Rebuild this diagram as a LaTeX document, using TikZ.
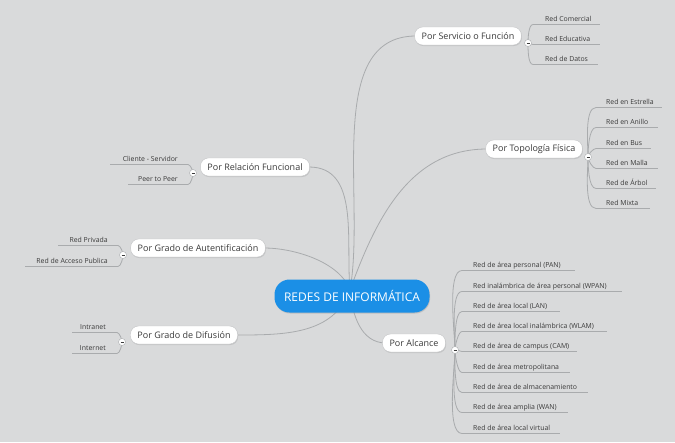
\documentclass[tikz,border=0pt]{standalone}
\usepackage{fontspec}
\setmainfont{Open Sans}
\usetikzlibrary{shadows}
\definecolor{bg}{HTML}{D9DADB}
\definecolor{ln}{HTML}{A9ABAD}
\definecolor{bl}{HTML}{1B8FE6}
\definecolor{tx}{HTML}{3A3A3A}
\tikzset{
 x=1pt,y=-1pt,
 branch/.style={draw=ln!70,fill=white,rounded corners=8pt,inner xsep=7pt,minimum height=18pt,font=\fontsize{9}{10}\selectfont,text=tx,drop shadow={opacity=0.25,shadow xshift=0.6pt,shadow yshift=-1pt}},
 leaf/.style={inner ysep=2.5pt,inner xsep=2pt,font=\fontsize{6.9}{8}\selectfont,text=tx},
 ul/.style={draw=ln,line width=0.7pt},
 con/.style={draw=ln,line width=0.8pt},
 tog/.style={circle,draw=ln,fill=white,inner sep=0pt,minimum size=7pt,path picture={\draw[tx,line width=0.6pt] ([xshift=-1.5pt]path picture bounding box.center)--([xshift=1.5pt]path picture bounding box.center);}},
}
\begin{document}
\begin{tikzpicture}
\useasboundingbox[fill=bg] (0,0) rectangle (675,442);
\coordinate (hub) at (350,290);
\coordinate (p1) at (468,36);
\coordinate (p2) at (534,149);
\coordinate (p3) at (255,167);
\coordinate (p4) at (198,248);
\coordinate (p5) at (184,335);
\coordinate (p6) at (414,343);
% root connectors
\draw[con] (hub) to[out=80,in=180,looseness=0.9] ([xshift=-52pt]p1);
\draw[con] (hub) to[out=70,in=180] ([xshift=-47pt]p2);
\draw[con] (hub) to[out=95,in=0] ([xshift=54pt]p3);
\draw[con] (hub) to[out=110,in=0,looseness=0.8] ([xshift=66pt]p4);
\draw[con] (hub) to[out=-110,in=0] ([xshift=52pt]p5);
\draw[con] (hub) to[out=-85,in=180] ([xshift=-28pt]p6);
% central
\node[fill=bl,rounded corners=15pt,minimum width=155pt,minimum height=33pt,text=white,font=\fontsize{12}{13}\selectfont,drop shadow={opacity=0.3,shadow xshift=0.6pt,shadow yshift=-1pt}] (root) at (352,296) {REDES DE INFORMÁTICA};
% branches
\node[branch] (b1) at (p1) {Por Servicio o Función};
\node[branch] (b2) at (p2) {Por Topología Física};
\node[branch] (b3) at (p3) {Por Relación Funcional};
\node[branch] (b4) at (p4) {Por Grado de Autentificación};
\node[branch] (b5) at (p5) {Por Grado de Difusión};
\node[branch] (b6) at (p6) {Por Alcance};
% toggle positions
\coordinate (t1) at (528,43);
\coordinate (t2) at (588,157);
\coordinate (t3) at (193,173);
\coordinate (t4) at (123,255);
\coordinate (t5) at (122,342);
\coordinate (t6) at (455,350);
% right leaves
\foreach \n/\t/\y/\e in {c1/Red Comercial/21/600,c2/Red Educativa/41/600,c3/Red de Datos/61/598}{
 \pgfmathsetmacro\o{\y<43?90:-90}
 \node[leaf,anchor=base west] (\n) at (543,\y) {\t};
 \coordinate (\n u) at (533,\y+3.5);
 \draw[ul] (\n u) -- (\e,\y+3.5);
 \draw[con] (t1) to[out=\o,in=180,looseness=0.6] (\n u);
}
\foreach \n/\t/\y/\e in {d1/Red en Estrella/104/662,d2/Red en Anillo/124/658,d3/Red en Bus/145/651,d4/Red en Malla/165/658,d5/Red de Árbol/185/656,d6/Red Mixta/205/650}{
 \pgfmathsetmacro\o{\y<157?90:-90}
 \node[leaf,anchor=base west] (\n) at (604,\y) {\t};
 \coordinate (\n u) at (596,\y+3.5);
 \draw[ul] (\n u) -- (\e,\y+3.5);
 \draw[con] (t2) to[out=\o,in=180,looseness=0.6] (\n u);
}
\foreach \n/\t/\y/\e in {a1/Red de área personal (PAN)/267/575,a2/Red inalámbrica de área personal (WPAN)/288/622,a3/Red de área local (LAN)/308/560,a4/Red de área local inalámbrica (WLAM)/328/607,a5/Red de área de campus (CAM)/348/577,a6/Red de área metropolitana/369/570,a7/Red de área de almacenamiento/389/588,a8/Red de área amplia (WAN)/409/568,a9/Red de área local virtual/430/560}{
 \pgfmathsetmacro\o{\y<350?90:-90}
 \node[leaf,anchor=base west] (\n) at (471,\y) {\t};
 \coordinate (\n u) at (462,\y+3.5);
 \draw[ul] (\n u) -- (\e,\y+3.5);
 \draw[con] (t6) to[out=\o,in=180,looseness=0.5] (\n u);
}
% left leaves
\foreach \n/\t/\y/\s in {e1/Cliente - Servidor/161/110,e2/Peer to Peer/181/128}{
 \pgfmathsetmacro\o{\y<173?90:-90}
 \node[leaf,anchor=base east] (\n) at (180,\y) {\t};
 \coordinate (\n u) at (188,\y+3.5);
 \draw[ul] (\s,\y+3.5) -- (\n u);
 \draw[con] (t3) to[out=\o,in=0,looseness=0.6] (\n u);
}
\foreach \n/\t/\y/\s in {f1/Red Privada/242/58,f2/Red de Acceso Publica/263/25}{
 \pgfmathsetmacro\o{\y<255?90:-90}
 \node[leaf,anchor=base east] (\n) at (110,\y) {\t};
 \coordinate (\n u) at (118,\y+3.5);
 \draw[ul] (\s,\y+3.5) -- (\n u);
 \draw[con] (t4) to[out=\o,in=0,looseness=0.6] (\n u);
}
\foreach \n/\t/\y/\s in {g1/Intranet/329/72,g2/Internet/350/72}{
 \pgfmathsetmacro\o{\y<342?90:-90}
 \node[leaf,anchor=base east] (\n) at (108,\y) {\t};
 \coordinate (\n u) at (117,\y+3.5);
 \draw[ul] (\s,\y+3.5) -- (\n u);
 \draw[con] (t5) to[out=\o,in=0,looseness=0.6] (\n u);
}
% toggles on top
\foreach \c in {t1,t2,t3,t4,t5,t6}{\node[tog] (\c n) at (\c) {};}
\end{tikzpicture}
\end{document}
